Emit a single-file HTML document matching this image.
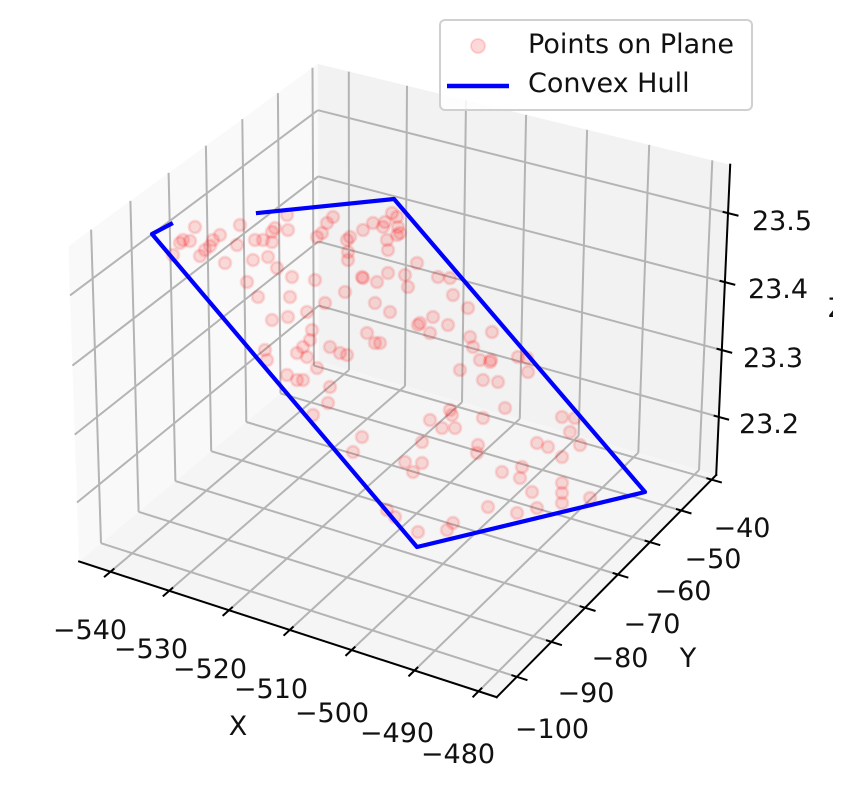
<!DOCTYPE html>
<html>
<head>
<meta charset="utf-8">
<style>
html,body{margin:0;padding:0;background:#fff;}
svg{display:block;}
text{font-family:"DejaVu Sans","Liberation Sans",sans-serif;font-size:27px;fill:#111;}
</style>
</head>
<body>
<svg id="s" width="864" height="790" viewBox="0 0 864 790" xmlns="http://www.w3.org/2000/svg">
<g id="panes"></g>
<g id="grid" stroke="#b4b4b4" stroke-width="2" fill="none"></g>
<g id="axes" stroke="#000" stroke-width="2" fill="none" stroke-linecap="square"></g>

<g fill="rgba(255,0,0,0.13)" stroke="rgba(255,0,0,0.13)" stroke-width="2.7">
<circle cx="195" cy="227" r="6"/><circle cx="183" cy="240" r="6"/><circle cx="190" cy="241" r="6"/><circle cx="173" cy="255" r="6"/>
<circle cx="205" cy="250" r="6"/><circle cx="200" cy="256" r="6"/><circle cx="210" cy="246" r="6"/><circle cx="220" cy="235" r="6"/>
<circle cx="225" cy="263" r="6"/><circle cx="237" cy="245" r="6"/><circle cx="240" cy="225" r="6"/><circle cx="255" cy="240" r="6"/>
<circle cx="263" cy="240" r="6"/><circle cx="272" cy="242" r="6"/><circle cx="275" cy="228" r="6"/><circle cx="253" cy="260" r="6"/>
<circle cx="268" cy="257" r="6"/><circle cx="277" cy="268" r="6"/><circle cx="247" cy="282" r="6"/><circle cx="258" cy="297" r="6"/>
<circle cx="288" cy="230" r="6"/><circle cx="292" cy="277" r="6"/><circle cx="290" cy="297" r="6"/><circle cx="272" cy="320" r="6"/>
<circle cx="288" cy="317" r="6"/><circle cx="307" cy="312" r="6"/><circle cx="315" cy="280" r="6"/><circle cx="322" cy="233" r="6"/>
<circle cx="327" cy="223" r="6"/><circle cx="333" cy="217" r="6"/><circle cx="325" cy="303" r="6"/><circle cx="347" cy="240" r="6"/>
<circle cx="348" cy="260" r="6"/><circle cx="345" cy="292" r="6"/><circle cx="362" cy="277" r="6"/><circle cx="363" cy="230" r="6"/>
<circle cx="373" cy="223" r="6"/><circle cx="383" cy="227" r="6"/><circle cx="377" cy="282" r="6"/><circle cx="387" cy="240" r="6"/>
<circle cx="388" cy="273" r="6"/><circle cx="397" cy="217" r="6"/><circle cx="397" cy="235" r="6"/><circle cx="375" cy="303" r="6"/>
<circle cx="390" cy="312" r="6"/><circle cx="367" cy="333" r="6"/><circle cx="375" cy="343" r="6"/><circle cx="312" cy="330" r="6"/>
<circle cx="310" cy="340" r="6"/><circle cx="303" cy="347" r="6"/><circle cx="297" cy="353" r="6"/><circle cx="307" cy="357" r="6"/>
<circle cx="317" cy="368" r="6"/><circle cx="330" cy="347" r="6"/><circle cx="340" cy="353" r="6"/><circle cx="347" cy="355" r="6"/>
<circle cx="265" cy="350" r="6"/><circle cx="267" cy="360" r="6"/><circle cx="287" cy="375" r="6"/><circle cx="297" cy="380" r="6"/>
<circle cx="330" cy="387" r="6"/><circle cx="328" cy="403" r="6"/><circle cx="313" cy="415" r="6"/><circle cx="272" cy="232" r="6"/>
<circle cx="287" cy="215" r="6"/><circle cx="317" cy="237" r="6"/><circle cx="350" cy="237" r="6"/><circle cx="348" cy="252" r="6"/>
<circle cx="385" cy="222" r="6"/><circle cx="392" cy="213" r="6"/><circle cx="398" cy="227" r="6"/><circle cx="388" cy="250" r="6"/>
<circle cx="363" cy="278" r="6"/><circle cx="417" cy="263" r="6"/><circle cx="438" cy="277" r="6"/><circle cx="408" cy="287" r="6"/>
<circle cx="400" cy="233" r="6"/><circle cx="405" cy="275" r="6"/><circle cx="450" cy="278" r="6"/><circle cx="453" cy="295" r="6"/>
<circle cx="468" cy="308" r="6"/><circle cx="418" cy="325" r="6"/><circle cx="433" cy="317" r="6"/><circle cx="430" cy="333" r="6"/>
<circle cx="448" cy="325" r="6"/><circle cx="470" cy="337" r="6"/><circle cx="473" cy="347" r="6"/><circle cx="492" cy="332" r="6"/>
<circle cx="490" cy="362" r="6"/><circle cx="480" cy="360" r="6"/><circle cx="460" cy="370" r="6"/><circle cx="483" cy="380" r="6"/>
<circle cx="498" cy="382" r="6"/><circle cx="518" cy="357" r="6"/><circle cx="527" cy="358" r="6"/><circle cx="528" cy="372" r="6"/>
<circle cx="505" cy="408" r="6"/><circle cx="450" cy="410" r="6"/><circle cx="380" cy="343" r="6"/><circle cx="420" cy="323" r="6"/>
<circle cx="483" cy="418" r="6"/><circle cx="430" cy="420" r="6"/><circle cx="442" cy="428" r="6"/><circle cx="455" cy="428" r="6"/>
<circle cx="422" cy="442" r="6"/><circle cx="478" cy="445" r="6"/><circle cx="477" cy="453" r="6"/><circle cx="562" cy="417" r="6"/>
<circle cx="575" cy="418" r="6"/><circle cx="570" cy="432" r="6"/><circle cx="537" cy="443" r="6"/><circle cx="548" cy="447" r="6"/>
<circle cx="562" cy="457" r="6"/><circle cx="580" cy="445" r="6"/><circle cx="405" cy="462" r="6"/><circle cx="422" cy="463" r="6"/>
<circle cx="413" cy="472" r="6"/><circle cx="502" cy="472" r="6"/><circle cx="522" cy="467" r="6"/><circle cx="520" cy="478" r="6"/>
<circle cx="562" cy="483" r="6"/><circle cx="562" cy="493" r="6"/><circle cx="532" cy="492" r="6"/><circle cx="537" cy="508" r="6"/>
<circle cx="488" cy="507" r="6"/><circle cx="517" cy="513" r="6"/><circle cx="562" cy="503" r="6"/><circle cx="590" cy="498" r="6"/>
<circle cx="453" cy="523" r="6"/><circle cx="447" cy="530" r="6"/><circle cx="418" cy="532" r="6"/><circle cx="395" cy="517" r="6"/>
<circle cx="387" cy="510" r="6"/><circle cx="303" cy="380" r="6"/><circle cx="362" cy="437" r="6"/><circle cx="353" cy="452" r="6"/>
<circle cx="452" cy="415" r="6"/><circle cx="180" cy="243" r="6"/><circle cx="491" cy="360" r="6"/><circle cx="213" cy="240" r="6"/>
</g>

<polyline points="171,224 152,234 417,547 645,492 394,199 258,213" fill="none" stroke="#0000ff" stroke-width="4.2" stroke-linejoin="round" stroke-linecap="square"/>

<!-- X tick labels -->
<g text-anchor="middle">
<text x="90" y="639">−540</text>
<text x="151" y="658">−530</text>
<text x="210" y="678">−520</text>
<text x="271" y="698">−510</text>
<text x="332" y="722">−500</text>
<text x="397" y="742">−490</text>
<text x="458" y="763">−480</text>
<text x="238" y="735">X</text>
<!-- Y tick labels -->
<text x="742" y="537">−40</text>
<text x="713" y="568">−50</text>
<text x="683" y="600">−60</text>
<text x="652" y="633">−70</text>
<text x="620" y="667">−80</text>
<text x="586" y="702">−90</text>
<text x="552" y="738">−100</text>
<text x="688" y="667">Y</text>
<!-- Z tick labels -->
<text x="782" y="230">23.5</text>
<text x="778" y="298">23.4</text>
<text x="773" y="367">23.3</text>
<text x="769" y="433">23.2</text>
</g>
<text x="828" y="317">Z</text>
<rect x="833" y="280" width="31" height="60" fill="#fff"/>

<!-- Legend -->
<rect x="440" y="20" width="312" height="90" rx="5" ry="5" fill="rgba(255,255,255,0.85)" stroke="#d0d0d0" stroke-width="2"/>
<circle cx="478" cy="46" r="7" fill="rgba(255,0,0,0.15)" stroke="rgba(255,0,0,0.15)" stroke-width="2"/>
<text x="528" y="53">Points on Plane</text>
<line x1="447" y1="86" x2="509" y2="86" stroke="#0000ff" stroke-width="4.5"/>
<text x="528" y="92">Convex Hull</text>
</svg>

<script>
(function(){
var NS="http://www.w3.org/2000/svg";
var C=[[0,0,0,80,560],[1,0,0,497,698],[1,1,0,717,474],[0,1,0,317,363],[0,0,1,67,247],[0,1,1,320,63],[1,1,1,729,165]];
var N=11,M=[],i,j,k;
for(i=0;i<N;i++){M.push([]);for(j=0;j<=N;j++)M[i].push(0);}
function add(r,b){for(var i=0;i<N;i++){for(var j=0;j<N;j++)M[i][j]+=r[i]*r[j];M[i][N]+=r[i]*b;}}
C.forEach(function(c){var X=c[0],Y=c[1],Z=c[2],u=c[3],v=c[4];
add([X,Y,Z,1,0,0,0,0,-u*X,-u*Y,-u*Z],u);add([0,0,0,0,X,Y,Z,1,-v*X,-v*Y,-v*Z],v);});
for(var c=0;c<N;c++){var p=c;for(var r=c+1;r<N;r++)if(Math.abs(M[r][c])>Math.abs(M[p][c]))p=r;
var t=M[c];M[c]=M[p];M[p]=t;
for(r=0;r<N;r++){if(r===c)continue;var f=M[r][c]/M[c][c];for(k=c;k<=N;k++)M[r][k]-=f*M[c][k];}}
var P=[];for(i=0;i<N;i++)P.push(M[i][N]/M[i][i]);
function pr(X,Y,Z){var w=P[8]*X+P[9]*Y+P[10]*Z+1;return[(P[0]*X+P[1]*Y+P[2]*Z+P[3])/w,(P[4]*X+P[5]*Y+P[6]*Z+P[7])/w];}
function fit(fn,pt){var best=1e12,bs=0;for(var s=-0.3;s<=1.3;s+=0.0005){var q=fn(s);var d=(q[0]-pt[0])*(q[0]-pt[0])+(q[1]-pt[1])*(q[1]-pt[1]);if(d<best){best=d;bs=s;}}return bs;}
function mk(v1,v2,s1,s2){return function(v){return s1+(v-v1)*(s2-s1)/(v2-v1);};}
var nx=mk(-540,-480,fit(function(s){return pr(s,0,0);},[110,573]),fit(function(s){return pr(s,0,0);},[478,693]));
var ny=mk(-100,-40,fit(function(s){return pr(1,s,0);},[518,678]),fit(function(s){return pr(1,s,0);},[710,478]));
var nz=mk(23.2,23.5,fit(function(s){return pr(1,1,s);},[720,417]),fit(function(s){return pr(1,1,s);},[725,213]));
var gP=document.getElementById('panes'),gG=document.getElementById('grid'),gA=document.getElementById('axes');
function poly(g,pts,fill){var e=document.createElementNS(NS,'polygon');e.setAttribute('points',pts.map(function(q){return q[0].toFixed(1)+','+q[1].toFixed(1);}).join(' '));e.setAttribute('fill',fill);g.appendChild(e);}
function line(g,a,b){var e=document.createElementNS(NS,'line');e.setAttribute('x1',a[0].toFixed(1));e.setAttribute('y1',a[1].toFixed(1));e.setAttribute('x2',b[0].toFixed(1));e.setAttribute('y2',b[1].toFixed(1));g.appendChild(e);}
poly(gP,[pr(0,0,0),pr(0,1,0),pr(0,1,1),pr(0,0,1)],'rgb(249,249,249)');
poly(gP,[pr(0,1,0),pr(1,1,0),pr(1,1,1),pr(0,1,1)],'rgb(242,242,242)');
poly(gP,[pr(0,0,0),pr(1,0,0),pr(1,1,0),pr(0,1,0)],'rgb(245,245,245)');
var x,y,z,s;
for(x=-540;x<=-480;x+=10){s=nx(x);line(gG,pr(s,0,0),pr(s,1,0));line(gG,pr(s,1,0),pr(s,1,1));}
for(y=-100;y<=-40;y+=10){s=ny(y);line(gG,pr(0,s,0),pr(1,s,0));line(gG,pr(0,s,0),pr(0,s,1));}
var zs=[23.2,23.3,23.4,23.5];
zs.forEach(function(z){var s=nz(z);line(gG,pr(0,1,s),pr(1,1,s));line(gG,pr(0,0,s),pr(0,1,s));});
line(gA,pr(0,0,0),pr(1,0,0));line(gA,pr(1,0,0),pr(1,1,0));line(gA,pr(1,1,0),pr(1,1,1));
for(x=-540;x<=-480;x+=10){s=nx(x);line(gA,pr(s,0.012,0),pr(s,-0.022,0));}
for(y=-100;y<=-40;y+=10){s=ny(y);line(gA,pr(0.99,s,0),pr(1.022,s,0));}
zs.forEach(function(z){var s=nz(z);line(gA,pr(0.99,1,s),pr(1.022,1,s));});
})();
</script>
</body>
</html>
